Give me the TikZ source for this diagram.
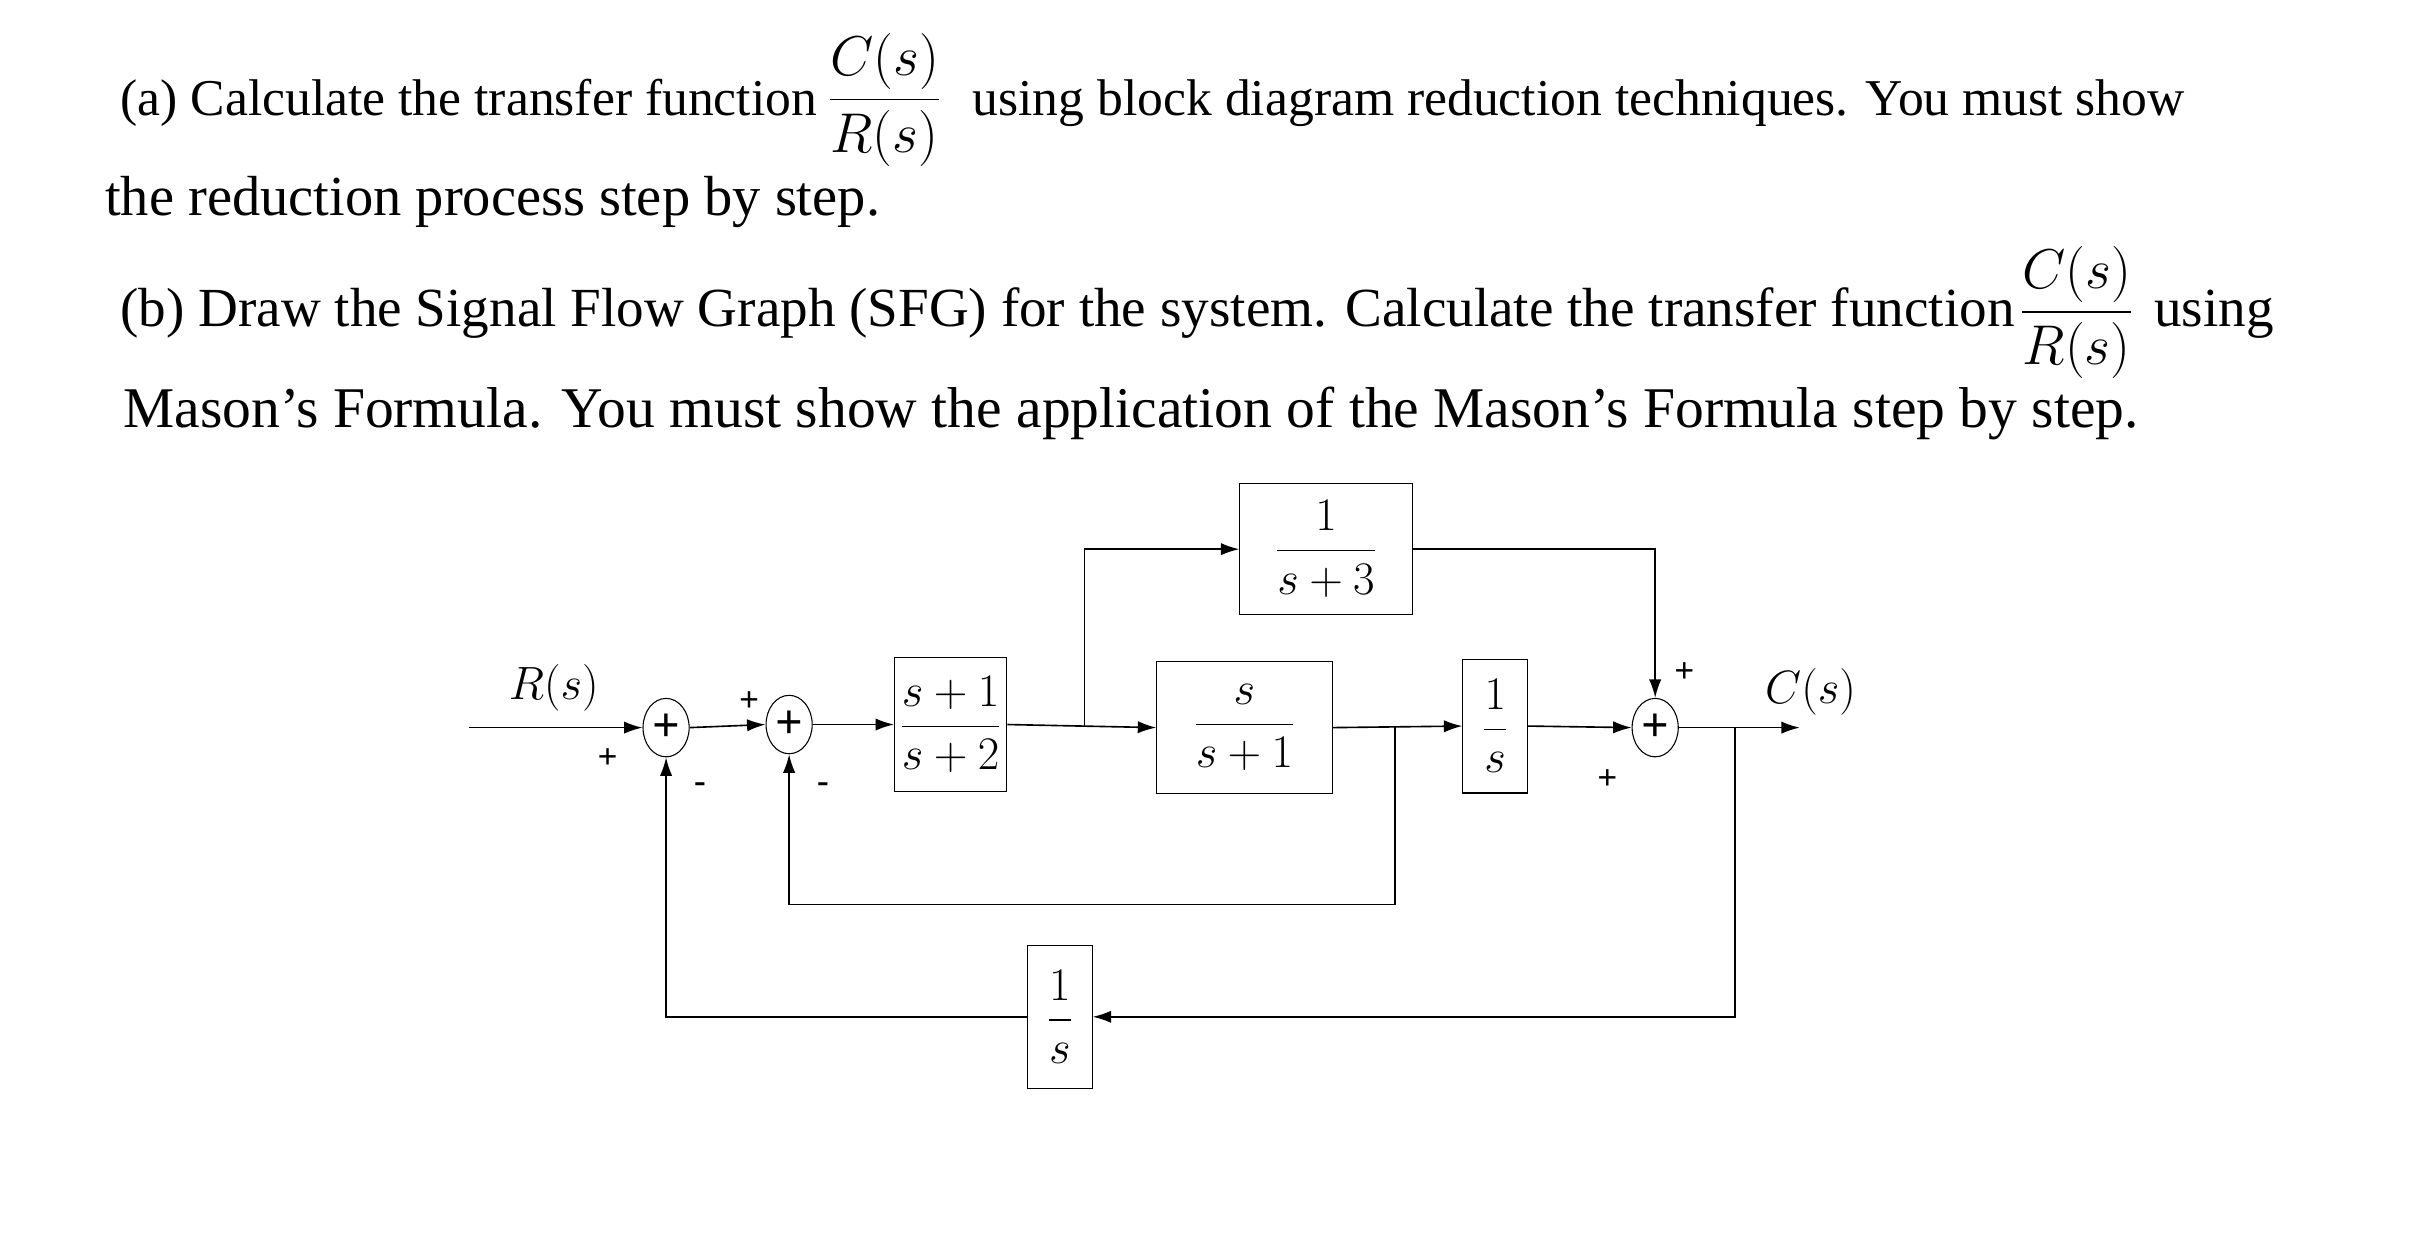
\documentclass[tikz,border=0pt]{standalone}
\usepackage{fontspec}
\setmainfont{Liberation Serif}
\usetikzlibrary{shapes.geometric,arrows.meta}
\begin{document}
\begin{tikzpicture}[x=0.02cm,y=-0.02cm,
  txt/.style={anchor=base west,inner sep=0},
  blk/.style={draw,thin,inner sep=1pt,font=\fontsize{17}{19}\selectfont},
  sum/.style={draw,ellipse,minimum width=0.6cm,minimum height=0.76cm,inner sep=0,font=\bfseries\fontsize{18}{18}\selectfont},
  sg/.style={font=\bfseries\fontsize{13}{13}\selectfont,inner sep=0},
  ar/.style={-{Latex[length=2.4mm,width=1.6mm]},line width=0.6pt},
  ln/.style={line width=0.6pt}]
\useasboundingbox (0,0) rectangle (1568,808);
\fill[white] (0,0) rectangle (1568,808);
% text
\node[txt,font=\fontsize{19.1}{22}\selectfont] (t1) at (78,75) {(a) Calculate the transfer function};
\node[font=\fontsize{19.5}{22}\selectfont] (f1) at (575,65) {$\displaystyle\frac{C(s)}{R(s)}$};
\node[txt,font=\fontsize{19.1}{22}\selectfont] (t2) at (632,75) {using block diagram reduction techniques. You must show};
\node[txt,font=\fontsize{20.9}{22}\selectfont] (t3) at (68,140) {the reduction process step by step.};
\node[txt,font=\fontsize{20.4}{22}\selectfont] (t4) at (78,212) {(b) Draw the Signal Flow Graph (SFG) for the system. Calculate the transfer function};
\node[font=\fontsize{19.5}{22}\selectfont] (f2) at (1350,203) {$\displaystyle\frac{C(s)}{R(s)}$};
\node[txt,font=\fontsize{20.4}{22}\selectfont] (t5) at (1400,212) {using};
\node[txt,font=\fontsize{21.3}{22}\selectfont] (t6) at (80,278) {Mason’s Formula. You must show the application of the Mason’s Formula step by step.};
% diagram
\node[sum] (s1) at (433,473) {+};
\node[sum] (s2) at (513,471) {+};
\node[sum] (s3) at (1076,473) {+};
\node[blk,minimum width=1.46cm,minimum height=1.74cm] (g1) at (618,471) {$\displaystyle\frac{s+1}{s+2}$};
\node[blk,minimum width=2.28cm,minimum height=1.72cm] (g2) at (809,473) {$\displaystyle\frac{\;s\;}{s+1}$};
\node[blk,minimum width=2.24cm,minimum height=1.7cm] (g3) at (862,357) {$\displaystyle\frac{1}{s+3}$};
\node[blk,minimum width=0.84cm,minimum height=1.74cm] (g4) at (972,472) {$\displaystyle\frac{1}{s}$};
\node[blk,minimum width=0.84cm,minimum height=1.86cm] (g5) at (689,661) {$\displaystyle\frac{1}{s}$};
\node[font=\fontsize{17}{19}\selectfont] (lr) at (360,447) {$R(s)$};
\node[font=\fontsize{17}{19}\selectfont] (lc) at (1177,450) {$C(s)$};
\node[sg] (p1) at (395,493) {+};
\node[sg] (m1) at (455,512) {-};
\node[sg] (p2) at (487,456) {+};
\node[sg] (m2) at (535,512) {-};
\node[sg] (p3) at (1095,437) {+};
\node[sg] (p4) at (1045,507) {+};
\coordinate (in) at (305,473);
\coordinate (b1) at (705,472);
\coordinate (b2) at (907,472);
\coordinate (b3) at (1128,473);
\coordinate (out) at (1170,473);
\draw[ar] (in) -- (s1.west);
\draw[ar] (s1.east) -- (s2.west);
\draw[ar] (s2.east) -- (g1.west);
\draw[ar] (g1.east) -- (g2.west);
\draw[ar] (b1) |- (g3.west);
\draw[ar] (g3.east) -| (s3.north);
\draw[ar] (g2.east) -- (g4.west);
\draw[ar] (b2) -- ++(0,116) -| (s2.south);
\draw[ar] (g4.east) -- (s3.west);
\draw[ar] (s3.east) -- (out);
\draw[ar] (b3) |- (g5.east);
\draw[ar] (g5.west) -| (s1.south);
\end{tikzpicture}
\end{document}
